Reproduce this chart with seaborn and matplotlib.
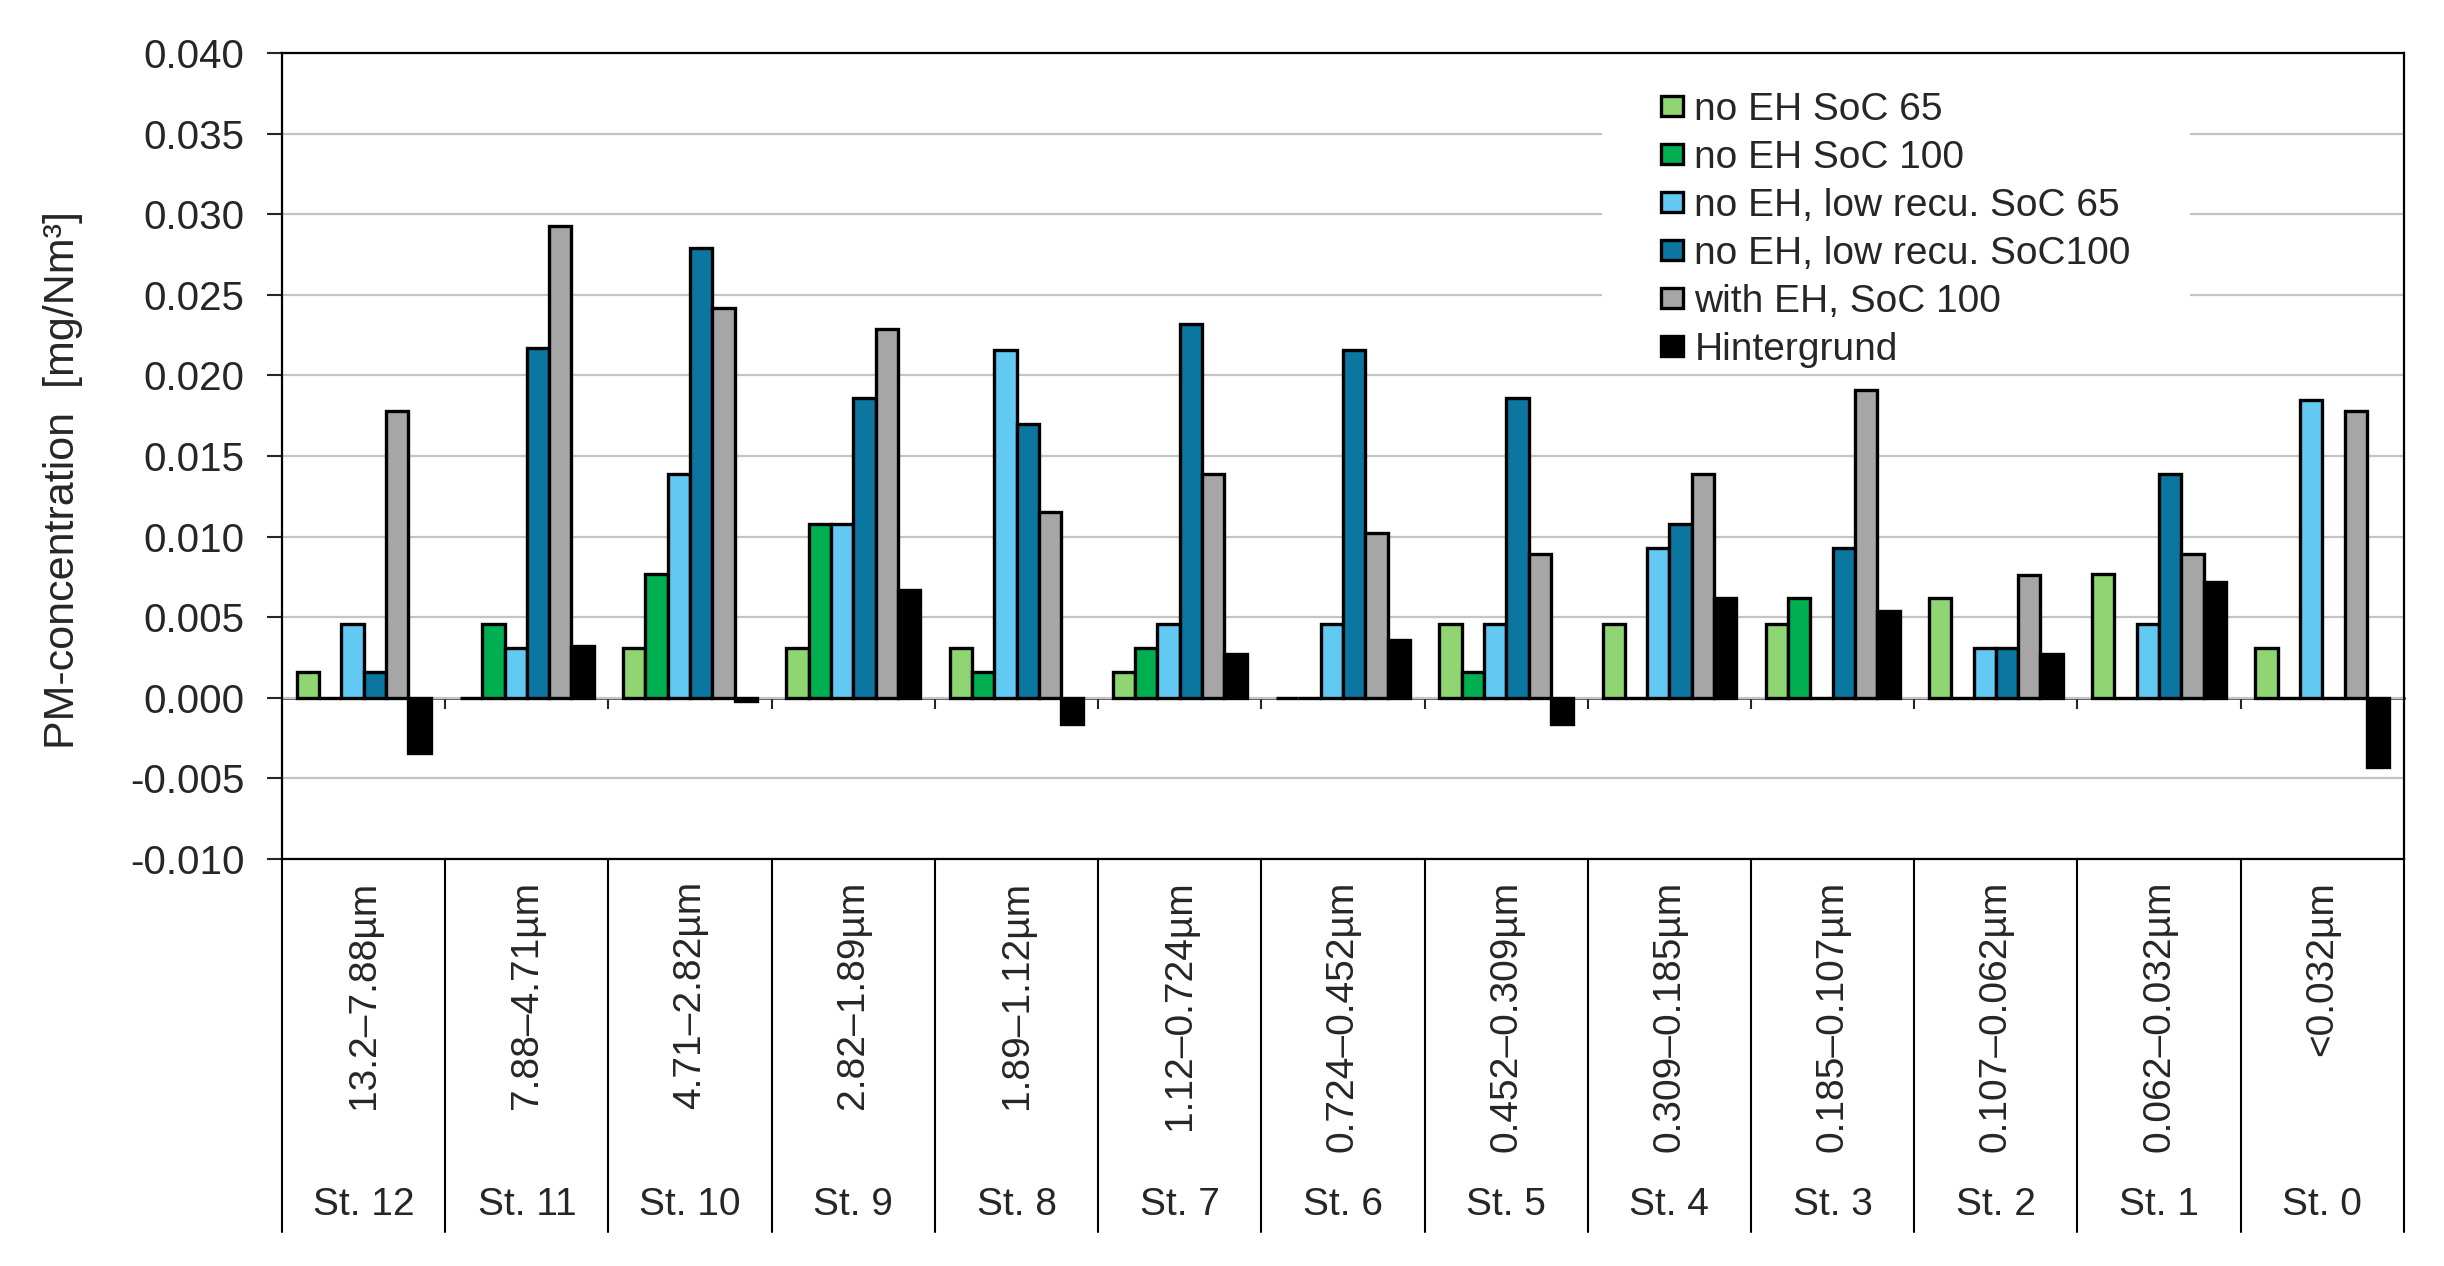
import numpy as np
import pandas as pd
import matplotlib
matplotlib.use("Agg")
import matplotlib.pyplot as plt
import matplotlib.transforms as mtransforms
from matplotlib.patches import Rectangle
from matplotlib.ticker import FixedLocator, FormatStrFormatter
import seaborn as sns

stages = ['St. 12', 'St. 11', 'St. 10', 'St. 9', 'St. 8', 'St. 7', 'St. 6',
          'St. 5', 'St. 4', 'St. 3', 'St. 2', 'St. 1', 'St. 0']
sizes = ['13.2–7.88µm', '7.88–4.71µm', '4.71–2.82µm', '2.82–1.89µm',
         '1.89–1.12µm', '1.12–0.724µm', '0.724–0.452µm', '0.452–0.309µm',
         '0.309–0.185µm', '0.185–0.107µm', '0.107–0.062µm', '0.062–0.032µm',
         '<0.032µm']

series_names = ['no EH SoC 65', 'no EH SoC 100', 'no EH, low recu. SoC 65',
                'no EH, low recu. SoC100', 'with EH, SoC 100', 'Hintergrund']

no_eh_65 = [0.0016, 0.0, 0.0031, 0.0031, 0.0031, 0.0016, 0.0,
            0.0046, 0.0046, 0.0046, 0.0062, 0.0077, 0.0031]
no_eh_100 = [0.0, 0.0046, 0.0077, 0.0108, 0.0016, 0.0031, 0.0,
             0.0016, 0.0, 0.0062, 0.0, 0.0, 0.0]
low_recu_65 = [0.0046, 0.0031, 0.0139, 0.0108, 0.0216, 0.0046, 0.0046,
               0.0046, 0.0093, 0.0, 0.0031, 0.0046, 0.0185]
low_recu_100 = [0.0016, 0.0217, 0.0279, 0.0186, 0.0170, 0.0232, 0.0216,
                0.0186, 0.0108, 0.0093, 0.0031, 0.0139, 0.0]
with_eh_100 = [0.0178, 0.0293, 0.0242, 0.0229, 0.0115, 0.0139, 0.0102,
               0.0089, 0.0139, 0.0191, 0.0076, 0.0089, 0.0178]
hintergrund = [-0.0034, 0.0032, -0.0002, 0.0067, -0.0016, 0.0027, 0.0036,
               -0.0016, 0.0062, 0.0054, 0.0027, 0.0072, -0.0043]

colors = ['#8fd672', '#00b050', '#62c9f2', '#0b76a0', '#a6a6a6', '#000000']

y_ticks = [-0.010, -0.005, 0.000, 0.005, 0.010, 0.015, 0.020, 0.025, 0.030, 0.035, 0.040]

all_values = [no_eh_65, no_eh_100, low_recu_65, low_recu_100, with_eh_100, hintergrund]
rows = []
for name, vals in zip(series_names, all_values):
    for st, v in zip(stages, vals):
        rows.append({'stage': st, 'series': name, 'value': v})
df = pd.DataFrame(rows)

sns.set_style("white")
plt.rcParams['font.family'] = ['Liberation Sans', 'DejaVu Sans']

fs = 28
fig = plt.figure(figsize=(24.44, 12.66), dpi=100)
ax = fig.add_axes([0.1154, 0.3215, 0.8682, 0.6366])

sns.barplot(
    data=df, x='stage', y='value', hue='series',
    order=stages, hue_order=series_names, palette=colors,
    saturation=1, width=0.82, errorbar=None,
    edgecolor='black', linewidth=2.4, ax=ax
)

ymin, ymax = y_ticks[0], y_ticks[-1]
ax.set_ylim(ymin, ymax)
ax.set_xlim(-0.5, len(stages) - 0.5)
ax.yaxis.set_major_locator(FixedLocator(y_ticks))
ax.yaxis.set_major_formatter(FormatStrFormatter('%.3f'))
ax.tick_params(axis='y', direction='out', length=11, width=1.5,
               labelsize=29, pad=16, left=True)
ax.set_xticks([])
ax.set_xlabel('')
ax.set_ylabel('PM-concentration  [mg/Nm³]', fontsize=31)
ax.yaxis.set_label_coords(-0.094, 0.47)

ax.set_axisbelow(True)
ax.grid(axis='y', color='#c4c4c4', linewidth=1.6)
for sp in ax.spines.values():
    sp.set_visible(True)
    sp.set_color('black')
    sp.set_linewidth(1.6)

# zero line with category boundary ticks
boundaries = np.arange(len(stages) + 1) - 0.5
zero_loc = (0 - ymin) / (ymax - ymin)
secax = ax.secondary_xaxis(zero_loc)
secax.set_xticks(boundaries[1:-1])
secax.tick_params(axis='x', direction='out', length=8, width=1.5,
                  labelbottom=False, labeltop=False)
for sp in secax.spines.values():
    sp.set_linewidth(1.8)

# legend with white box
ax.add_patch(Rectangle((0.622, 0.612), 0.277, 0.367, transform=ax.transAxes,
                       facecolor='white', edgecolor='none', zorder=0.8))
handles, labels = ax.get_legend_handles_labels()
ax.legend(handles, labels, loc='upper left', bbox_to_anchor=(0.650, 0.952),
          frameon=False, fontsize=fs, handlelength=0.55, handleheight=0.4,
          handletextpad=0.3, labelspacing=0.31, borderpad=0, borderaxespad=0)

# two-level category labels
trans = mtransforms.blended_transform_factory(ax.transData, ax.transAxes)
for i, (size, st) in enumerate(zip(sizes, stages)):
    ax.text(i, -0.027, size, transform=trans, rotation=90,
            ha='center', va='top', fontsize=fs)
    ax.text(i, -0.429, st, transform=trans, ha='center', va='center',
            fontsize=fs)
for b in boundaries:
    ax.plot([b, b], [0, -0.463], transform=trans, color='black',
            linewidth=1.5, clip_on=False)

fig.savefig('out.png', dpi=100)
